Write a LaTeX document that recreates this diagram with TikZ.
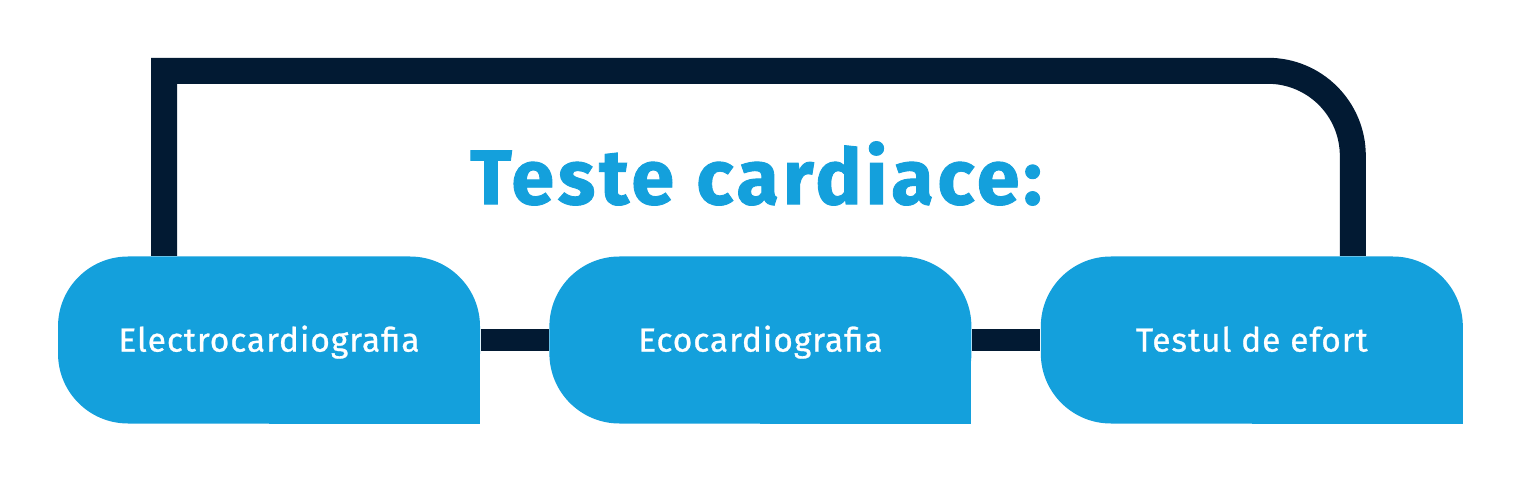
\documentclass[tikz,border=0pt]{standalone}
\usepackage{fontspec}
\setmainfont{Fira Sans}
\newfontfamily\labelfont{Fira Sans}[LetterSpace=3,FakeBold=0.8]
\newfontfamily\titlefont{Fira Sans}[LetterSpace=5,UprightFont=*,UprightFeatures={FakeBold=1.2},BoldFeatures={FakeBold=1.2}]
\usetikzlibrary{positioning}
\definecolor{cardblue}{RGB}{20,160,220}
\definecolor{cardnavy}{RGB}{2,26,51}

\begin{document}
\begin{tikzpicture}[
    testbox/.style={rectangle,minimum width=4.22cm,minimum height=1.67cm,inner sep=0pt,
      text=white,font=\labelfont\fontsize{9.5}{11}\selectfont,text height=6.6pt,text depth=0pt,
      path picture={
        \fill[cardblue,rounded corners=0.7cm] (path picture bounding box.south west) rectangle (path picture bounding box.north east);
        \fill[cardblue] (path picture bounding box.center) rectangle (path picture bounding box.south east);
      }},
    link/.style={cardnavy,line width=0.23cm},
    frame/.style={cardnavy,line width=0.26cm},
    title/.style={text=cardblue,font=\titlefont\bfseries\fontsize{22}{26}\selectfont,text height=15.2pt,text depth=0pt},
    node distance=0.68cm,
  ]
  \useasboundingbox (0,0) rectangle (15.36,4.82);

  \node[testbox] (ecg) at (2.69,1.42) {Electrocardiografia};
  \node[testbox,right=of ecg] (eco) {Ecocardiografia};
  \node[testbox,right=of eco] (efort) {Testul de efort};
  \node[title] (head) at (7.56,3.045) {Teste cardiace:};

  \draw[link] (ecg.east) -- (eco.west);
  \draw[link] (eco.east) -- (efort.west);
  \draw[frame] ([xshift=-1.05cm]ecg.north) -- ++(0,1.85) [rounded corners=0.85cm] -| ([xshift=1.01cm]efort.north);
\end{tikzpicture}
\end{document}
